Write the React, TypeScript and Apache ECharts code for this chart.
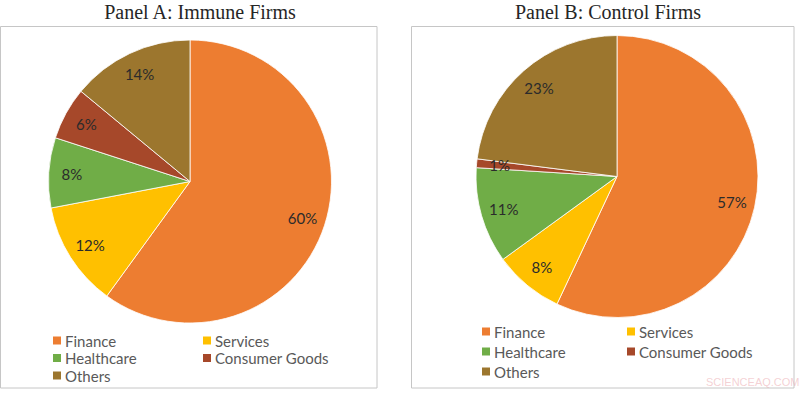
import React, { useEffect, useRef } from "react";
import * as echarts from "echarts";

const categories = ["Finance", "Services", "Healthcare", "Consumer Goods", "Others"];
const immuneShares = [60, 12, 8, 6, 14];
const controlShares = [57, 8, 11, 1, 23];
const colors = ["#ED7D31", "#FFC000", "#70AD47", "#A6482A", "#9C762E"];
const panelTitles = ["Panel A: Immune Firms", "Panel B: Control Firms"];

function buildData(values: number[]) {
  return categories.map((name, i) => ({ name, value: values[i], itemStyle: { color: colors[i] } }));
}

function pieSeries(values: number[], center: number[], r: number) {
  return [
    {
      type: "pie",
      center,
      radius: [0, r],
      startAngle: 90,
      clockwise: true,
      silent: true,
      label: { show: false },
      labelLine: { show: false },
      itemStyle: { borderColor: "#ffffff", borderWidth: 0.8 },
      data: buildData(values),
    },
    {
      type: "pie",
      center,
      radius: [r * 0.63, r],
      startAngle: 90,
      clockwise: true,
      silent: true,
      itemStyle: { color: "rgba(0,0,0,0)", borderWidth: 0 },
      label: {
        show: true,
        position: "inside",
        formatter: "{c}%",
        fontFamily: "Lato",
        fontSize: 15,
        color: "#2b2b2b",
      },
      labelLine: { show: false },
      data: categories.map((name, i) => ({ name, value: values[i] })),
    },
  ];
}

function legend(names: string[], left: number, top: number, gap: number) {
  return {
    data: names,
    orient: "vertical",
    left,
    top,
    itemGap: gap,
    itemWidth: 8,
    itemHeight: 8,
    icon: "rect",
    selectedMode: false,
    padding: 0,
    itemStyle: { borderWidth: 0 },
    textStyle: { fontFamily: "Lato", fontSize: 15, color: "#595959", padding: [0, 0, 0, -1] },
  };
}

export default function App() {
  const ref = useRef<HTMLDivElement>(null);
  useEffect(() => {
    if (!ref.current) return;
    const chart = echarts.init(ref.current, null, { renderer: "svg" });
    const col1 = [categories[0], categories[2], categories[4]];
    const col2 = [categories[1], categories[3]];
    const titleStyle = { fontFamily: "Liberation Serif", fontSize: 20, fontWeight: "normal", color: "#262626" };
    chart.setOption({
      animation: false,
      backgroundColor: "#ffffff",
      title: [
        { text: panelTitles[0], left: 195, top: -3, textAlign: "center", textStyle: titleStyle },
        { text: panelTitles[1], left: 603, top: -3, textAlign: "center", textStyle: titleStyle },
      ],
      legend: [
        legend(col1, 53, 333, 2.5),
        legend(col2, 203, 333, 2.5),
        legend(col1, 482, 324, 5),
        legend(col2, 627, 324, 5),
      ],
      graphic: [
        {
          type: "rect",
          shape: { x: 0.5, y: 26.5, width: 376.5, height: 361.5 },
          style: { fill: "none", stroke: "#c6c6c6", lineWidth: 1 },
          silent: true,
          z: -1,
        },
        {
          type: "rect",
          shape: { x: 411.5, y: 26.5, width: 382.5, height: 361.5 },
          style: { fill: "none", stroke: "#c6c6c6", lineWidth: 1 },
          silent: true,
          z: -1,
        },
        {
          type: "text",
          x: 706,
          y: 376,
          style: { text: "SCIENCEAQ.COM", fontFamily: "Liberation Sans", fontSize: 11, fill: "rgba(235,170,175,0.55)" },
          silent: true,
        },
      ],
      series: [
        ...pieSeries(immuneShares, [190, 181.5], 141.5),
        ...pieSeries(controlShares, [617, 176.5], 141),
      ],
    });
    return () => chart.dispose();
  }, []);
  return (
    <div
      ref={ref}
      style={{ position: "fixed", left: 0, top: 0, width: 800, height: 395 }}
    />
  );
}
